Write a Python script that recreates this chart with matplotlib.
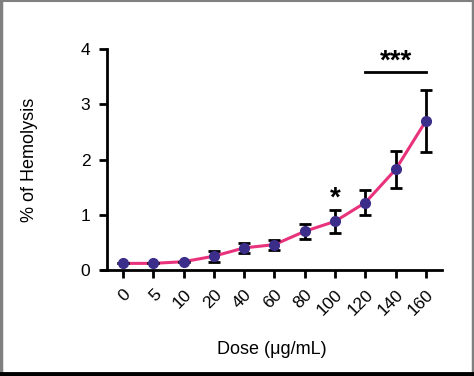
import matplotlib
matplotlib.use("Agg")
import matplotlib.pyplot as plt
from matplotlib.lines import Line2D

plt.rcParams['font.family'] = ['Liberation Sans', 'DejaVu Sans']

doses = ["0", "5", "10", "20", "40", "60", "80", "100", "120", "140", "160"]
hemolysis = [0.12, 0.12, 0.15, 0.25, 0.40, 0.46, 0.70, 0.88, 1.22, 1.82, 2.70]
errors = [0.0, 0.0, 0.0, 0.10, 0.09, 0.09, 0.14, 0.21, 0.23, 0.34, 0.56]
yticks = [0, 1, 2, 3, 4]

fig = plt.figure(figsize=(4.74, 3.76), dpi=100)
W, H = 474, 376
x0, x1 = 102, 442
yb, yt = 270, 49
ax = fig.add_axes([x0 / W, 1 - yb / H, (x1 - x0) / W, (yb - yt) / H])

x = list(range(len(doses)))
ax.plot(x, hemolysis, color='#e8327c', lw=2.2, zorder=2)
ax.errorbar(x, hemolysis, yerr=errors, fmt='none', ecolor='black',
            elinewidth=2, capsize=4.5, capthick=2, zorder=3)
ax.plot(x, hemolysis, 'o', color='#3b2d8a', ms=7, zorder=4)

ax.set_xlim(-0.693, 10.53)
ax.set_ylim(0, 4)
ax.spines['top'].set_visible(False)
ax.spines['right'].set_visible(False)
ax.spines['left'].set_position(('data', -0.528))
ax.spines['left'].set_linewidth(2)
ax.spines['bottom'].set_linewidth(2)
ax.spines['left'].set_bounds(0, 4)

ax.set_yticks(yticks)
ax.set_yticklabels([str(t) for t in yticks], fontsize=12.5)
ax.set_xticks(x)
ax.set_xticklabels(doses, rotation=45, ha='right', va='top', fontsize=12.5,
                   rotation_mode='anchor')
ax.tick_params(axis='both', width=2, length=6, direction='out')
ax.tick_params(axis='y', pad=6)
ax.tick_params(axis='x', pad=6)

ax.set_ylabel('% of Hemolysis', fontsize=13, labelpad=31)
ax.set_xlabel('Dose (μg/mL)', fontsize=13, labelpad=17)

# significance marks
ax.text(7, 1.30, '*', ha='center', va='center', fontsize=20, fontweight='bold')
ax.plot([8, 10], [3.59, 3.59], color='black', lw=2)
ax.text(9, 3.78, '***', ha='center', va='center', fontsize=20, fontweight='bold')

# border
fig.add_artist(Line2D([0.5 / W, 0.5 / W], [0, 1], color='#808080', lw=2.5, transform=fig.transFigure))
fig.add_artist(Line2D([0, 1], [1 - 0.5 / H, 1 - 0.5 / H], color='#808080', lw=1.5, transform=fig.transFigure))
fig.add_artist(Line2D([1 - 1.5 / W, 1 - 1.5 / W], [0, 1], color='#808080', lw=2.5, transform=fig.transFigure))
fig.add_artist(Line2D([0, 1], [2 / H, 2 / H], color='black', lw=3.5, transform=fig.transFigure))

fig.savefig('out.png', dpi=100)
